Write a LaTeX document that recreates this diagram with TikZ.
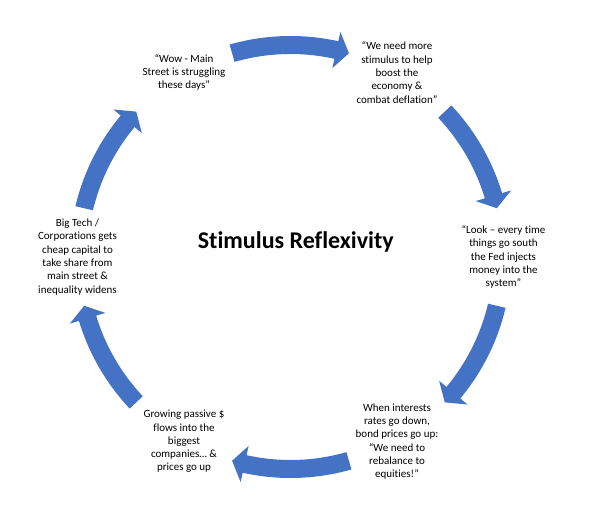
\documentclass[tikz,border=0pt]{standalone}
\usepackage{fontspec}
\setmainfont{Carlito}[Ligatures=NoCommon]
\usetikzlibrary{positioning,calc}
\definecolor{cycleblue}{HTML}{4472C4}
\newcommand{\cyclearrow}[2]{%
  \fill[cycleblue] ([shift={(#1:221)}]hub) arc[start angle=#1, end angle=#2+3.5, radius=221]
    -- ([shift={(#2+3.5:230.5)}]hub) -- ([shift={(#2:212)}]hub)
    -- ([shift={(#2+3.5:193.5)}]hub) -- ([shift={(#2+3.5:203)}]hub)
    arc[start angle=#2+3.5, end angle=#1, radius=203] -- cycle;
}

\begin{document}
\begin{tikzpicture}[x=1pt, y=1pt, every node/.style={font=\fontsize{11}{13.3}\selectfont, align=center, inner sep=0pt}, title/.style={font=\fontsize{24}{28}\selectfont\bfseries, anchor=base}]
        \useasboundingbox (0,0) rectangle (592,517);
        \coordinate (hub) at (290.5,260);
        \node (wow)     at ([shift={(120:213)}]hub) {“Wow - Main\\Street is struggling\\these days”};
        \node (more)    at ([shift={(60:213)}]hub)  {“We need more\\stimulus to help\\boost the\\economy \&\\combat deflation”};
        \node (look)    at ([shift={(0:213)}]hub)   {“Look – every time\\things go south\\the Fed injects\\money into the\\system”};
        \node (rates)   at ([shift={(-60:213)}]hub) {When interests\\rates go down,\\bond prices go up:\\“We need to\\rebalance to\\equities!”};
        \node (passive) at ([shift={(-120:213)}]hub) {Growing passive \$\\flows into the\\biggest\\companies… \&\\prices go up};
        \node (bigtech) at ([shift={(180:213)}]hub) {Big Tech /\\Corporations gets\\cheap capital to\\take share from\\main street \&\\inequality widens};
        \node[title] (name) at (295.8,268.7) {Stimulus Reflexivity};
        \foreach \startang/\tipang in {106/74, 43.3/13.3, -13.3/-43.3, -74/-106, -136.7/-166.7, 166.7/136.7}
            \cyclearrow{\startang}{\tipang};
    \end{tikzpicture}
\end{document}
